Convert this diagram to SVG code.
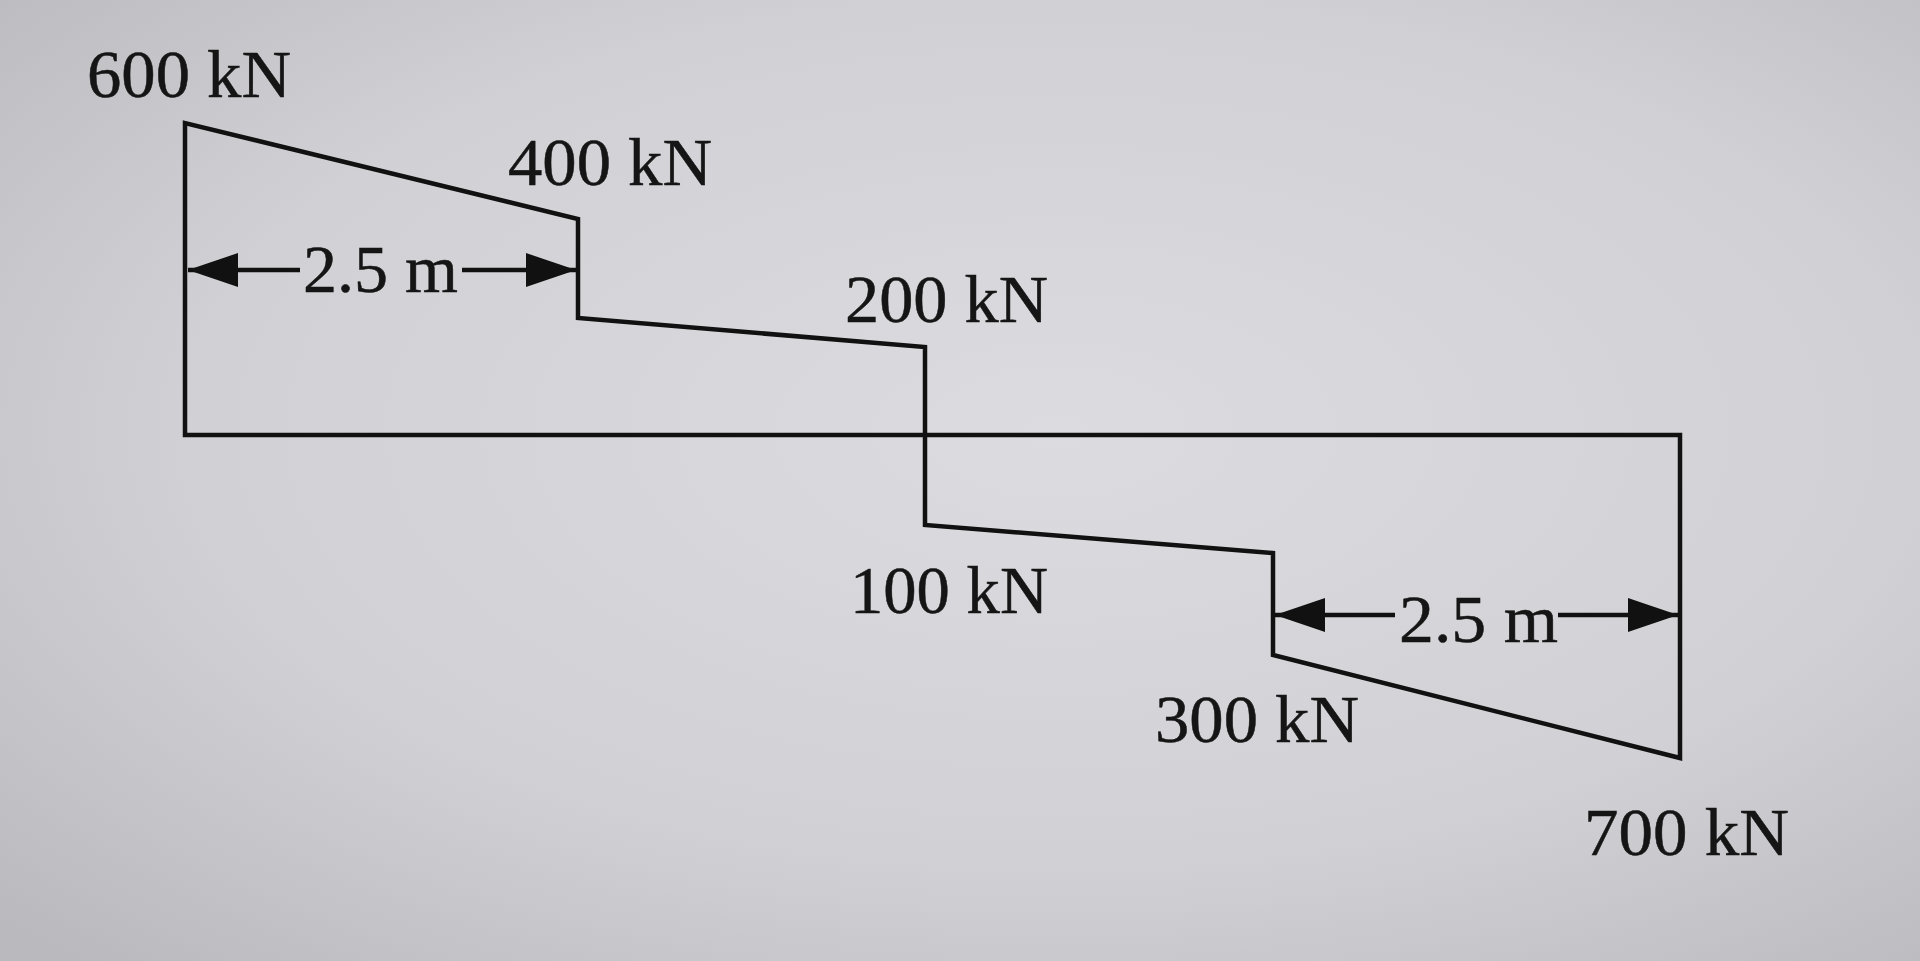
<svg xmlns="http://www.w3.org/2000/svg" width="1920" height="961" viewBox="0 0 1920 961">
<defs>
<radialGradient id="bg" cx="0.55" cy="0.45" r="0.75">
<stop offset="0" stop-color="#dcdce0"/>
<stop offset="0.6" stop-color="#d1d1d5"/>
<stop offset="1" stop-color="#bab9bd"/>
</radialGradient>
<marker id="ah" viewBox="0 0 50 34" refX="50" refY="17" markerWidth="50" markerHeight="34" markerUnits="userSpaceOnUse" orient="auto-start-reverse">
<path d="M0,0 L50,17 L0,34 Z" fill="#111111"/>
</marker>
<style>
.ln{fill:none;stroke:#111111;stroke-width:4.5;stroke-linejoin:miter}
.dim{fill:none;stroke:#111111;stroke-width:4.5}
.lbl{font-family:"Liberation Serif","Times New Roman",serif;font-size:67px;fill:#151515;stroke:#151515;stroke-width:0.5}
</style>
</defs>
<rect x="0" y="0" width="1920" height="961" fill="url(#bg)"/>
<g id="diagram">
<path class="ln" d="M185,435 L185,123 L578,219 L578,318 L925,347 L925,525 L1273,553 L1273,655 L1680,758 L1680,435 Z"/>
</g>
<g id="connectors">
<line class="dim" x1="188" y1="270" x2="300" y2="270" marker-start="url(#ah)"/>
<line class="dim" x1="462" y1="270" x2="576" y2="270" marker-end="url(#ah)"/>
<line class="dim" x1="1275" y1="615" x2="1395" y2="615" marker-start="url(#ah)"/>
<line class="dim" x1="1558" y1="615" x2="1678" y2="615" marker-end="url(#ah)"/>
</g>
<g id="labels">
<text class="lbl" x="87" y="97" textLength="204" lengthAdjust="spacingAndGlyphs">600 kN</text>
<text class="lbl" x="508" y="185" textLength="204" lengthAdjust="spacingAndGlyphs">400 kN</text>
<text class="lbl" x="845" y="322" textLength="203" lengthAdjust="spacingAndGlyphs">200 kN</text>
<text class="lbl" x="850" y="613" textLength="198" lengthAdjust="spacingAndGlyphs">100 kN</text>
<text class="lbl" x="1155" y="742" textLength="204" lengthAdjust="spacingAndGlyphs">300 kN</text>
<text class="lbl" x="1584" y="855" textLength="205" lengthAdjust="spacingAndGlyphs">700 kN</text>
<text class="lbl" x="303" y="292" textLength="155" lengthAdjust="spacingAndGlyphs">2.5 m</text>
<text class="lbl" x="1399" y="642" textLength="159" lengthAdjust="spacingAndGlyphs">2.5 m</text>
</g>
</svg>
